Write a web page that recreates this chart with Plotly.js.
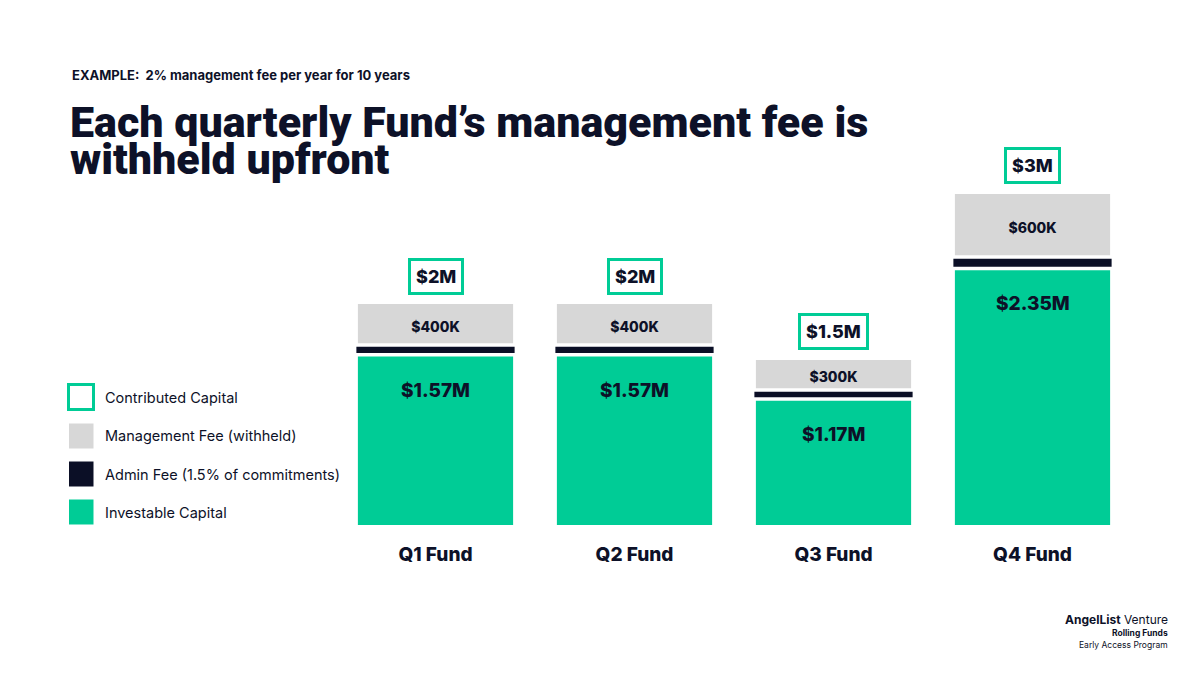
<!DOCTYPE html>
<html>
<head>
<meta charset="utf-8">
<script src="https://cdn.plot.ly/plotly-3.0.1.min.js"></script>
<style>html,body{margin:0;padding:0;background:#fff;}#chart{width:1200px;height:675px;}</style>
</head>
<body>
<div id="chart"></div>
<script>
// ---- data ----
const funds = ['Q1 Fund', 'Q2 Fund', 'Q3 Fund', 'Q4 Fund'];
const contributed = [2, 2, 1.5, 3];          // $M
const managementFee = [0.4, 0.4, 0.3, 0.6];  // $M (withheld)
const adminFee = [0.03, 0.03, 0.0225, 0.045]; // $M (1.5% of commitments)
const investable = [1.57, 1.57, 1.17, 2.35]; // $M
const legendLabels = ['Contributed Capital', 'Management Fee (withheld)', 'Admin Fee (1.5% of commitments)', 'Investable Capital'];

// ---- style ----
const GREEN = '#00cc96', GRAY = '#d7d7d7', NAVY = '#0b0f26', INK = '#0d1128';
const W = 1200, H = 675;
const M = {l: 336, r: 68, t: 140, b: 150};
const PW = W - M.l - M.r, PH = H - M.t - M.b;
const px = x => (x - M.l) / PW;
const py = y => (H - M.b - y) / PH;
const fmt = v => v >= 1 ? '$' + v + 'M' : '$' + Math.round(v * 1000) + 'K';

const adminBase = investable.slice();
const feeBase = investable.map((v, i) => v + adminFee[i]);

const traces = [
  {type: 'bar', x: funds, y: investable, base: 0, marker: {color: GREEN}, hoverinfo: 'skip', showlegend: false},
  {type: 'bar', x: funds, y: managementFee, base: feeBase, marker: {color: GRAY},
   text: managementFee.map(fmt), textposition: 'inside', insidetextanchor: 'middle', textangle: 0,
   textfont: {family: 'Inter', size: 14, weight: 800, color: INK}, hoverinfo: 'skip', showlegend: false},
  {type: 'bar', x: funds, y: adminFee, base: adminBase, marker: {color: 'white', line: {color: 'white', width: 10}}, hoverinfo: 'skip', showlegend: false},
  {type: 'bar', x: funds, y: adminFee, base: adminBase, marker: {color: NAVY, line: {color: NAVY, width: 3}}, hoverinfo: 'skip', showlegend: false}
];

const annotations = [];
const shapes = [];
funds.forEach((f, i) => {
  annotations.push({x: f, y: contributed[i], xref: 'x', yref: 'y', yanchor: 'bottom', yshift: 9,
    text: fmt(contributed[i]), showarrow: false, bgcolor: 'white', bordercolor: GREEN, borderwidth: 3, borderpad: 5,
    font: {family: 'Inter', size: 18, weight: 800, color: INK}});
  annotations.push({x: f, y: investable[i], xref: 'x', yref: 'y', yanchor: 'top', yshift: -25,
    text: fmt(investable[i]), showarrow: false,
    font: {family: 'Inter', size: 19, weight: 800, color: INK}});
});

// header
annotations.push({xref: 'paper', yref: 'paper', x: px(70), y: py(75), xanchor: 'left', yanchor: 'middle', showarrow: false,
  text: 'EXAMPLE:  2% management fee per year for 10 years', font: {family: 'Inter', size: 13, weight: 700, color: INK}});
annotations.push({xref: 'paper', yref: 'paper', x: px(68), y: py(122), xanchor: 'left', yanchor: 'middle', showarrow: false,
  text: 'Each quarterly Fund’s management fee is', font: {family: 'Roboto', size: 43, weight: 900, color: INK}});
annotations.push({xref: 'paper', yref: 'paper', x: px(68), y: py(159), xanchor: 'left', yanchor: 'middle', showarrow: false,
  text: 'withheld upfront', font: {family: 'Roboto', size: 43, weight: 900, color: INK}});

// legend
const legY = [397, 436, 474, 512];
const legFill = [null, GRAY, NAVY, GREEN];
legY.forEach((yc, i) => {
  if (i === 0) {
    shapes.push({type: 'rect', xref: 'paper', yref: 'paper', x0: px(68.5), x1: px(93.5), y0: py(yc - 12.5), y1: py(yc + 12.5),
      line: {color: GREEN, width: 3}, fillcolor: 'white'});
  } else {
    shapes.push({type: 'rect', xref: 'paper', yref: 'paper', x0: px(69), x1: px(93.5), y0: py(yc - 12.5), y1: py(yc + 12.5),
      line: {width: 0}, fillcolor: legFill[i]});
  }
  annotations.push({xref: 'paper', yref: 'paper', x: px(103), y: py(yc), xanchor: 'left', yanchor: 'middle', showarrow: false,
    text: legendLabels[i], font: {family: 'Inter', size: 14.5, color: INK}});
});

// logo
annotations.push({xref: 'paper', yref: 'paper', x: px(1170), y: py(619), xanchor: 'right', yanchor: 'middle', showarrow: false,
  text: '<b>AngelList</b> Venture', font: {family: 'Inter', size: 12, color: INK}});
annotations.push({xref: 'paper', yref: 'paper', x: px(1170), y: py(633), xanchor: 'right', yanchor: 'middle', showarrow: false,
  text: 'Rolling Funds', font: {family: 'Inter', size: 8.5, weight: 700, color: INK}});
annotations.push({xref: 'paper', yref: 'paper', x: px(1170), y: py(645), xanchor: 'right', yanchor: 'middle', showarrow: false,
  text: 'Early Access Program', font: {family: 'Inter', size: 8.5, color: INK}});

const layout = {
  width: W, height: H, margin: M, paper_bgcolor: 'white', plot_bgcolor: 'white',
  barmode: 'overlay', bargap: 0.22, showlegend: false,
  xaxis: {type: 'category', range: [-0.5, 3.5], showgrid: false, zeroline: false, showline: false, ticks: '',
    ticklabelstandoff: 16, tickfont: {family: 'Inter', size: 19, weight: 800, color: INK}, fixedrange: true},
  yaxis: {range: [0, 3.484], visible: false, fixedrange: true},
  annotations: annotations, shapes: shapes
};

Plotly.newPlot('chart', traces, layout, {displayModeBar: false, staticPlot: true});
</script>
</body>
</html>
